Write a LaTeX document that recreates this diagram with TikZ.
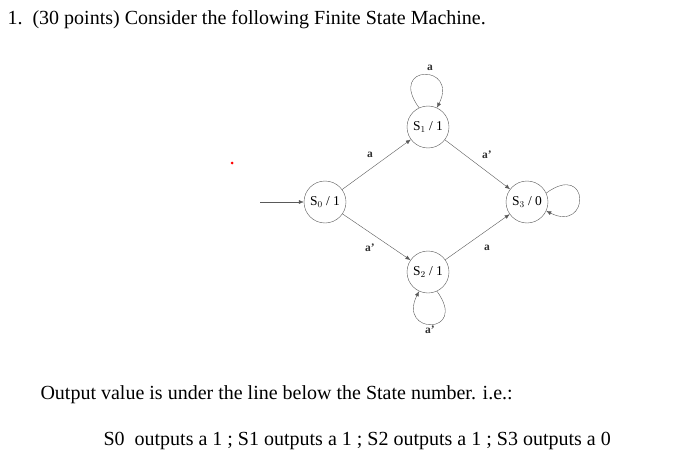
\documentclass[tikz,border=0pt]{standalone}
\usepackage{fontspec}
\setmainfont{Liberation Serif}
\usetikzlibrary{arrows.meta}
\begin{document}
\begin{tikzpicture}[x=1pt,y=-1pt,
  st/.style={circle,draw,black!65,thin,minimum size=42pt,inner sep=0pt,text=black,font=\fontsize{13.5}{15}\selectfont},
  tr/.style={draw=black!65,thin,-{Latex[length=5pt,width=4pt]}},
  lbl/.style={font=\fontsize{11.5}{12}\selectfont\bfseries, text=black!80}]
\useasboundingbox (0,0) rectangle (698,468);
\node[anchor=west,font=\fontsize{20}{22}\selectfont] (title) at (4,20) {1.\ \ (30 points) Consider the following Finite State Machine.};
\fill[red] (232,163) circle (1.5);
\node[st] (s0) at (325,202) {S$_0$ / 1};
\node[st] (s1) at (428,127) {S$_1$ / 1};
\node[st] (s2) at (428,272) {S$_2$ / 1};
\node[st] (s3) at (527,202) {S$_3$ / 0};
\coordinate (init) at (260,202);
\draw[tr] (init) -- (s0);
\draw[tr] (s0) -- (s1);
\draw[tr] (s0) -- (s2);
\draw[tr] (s1) -- (s3);
\draw[tr] (s2) -- (s3);
\draw[tr] (s1.115) .. controls +(-32,-44) and +(22,-44) .. (s1.65);
\draw[tr] (s2.295) .. controls +(32,44) and +(-22,44) .. (s2.245);
\draw[tr] (s3.25) .. controls +(44,-32) and +(44,22) .. (s3.-25);
\node[lbl] (l1) at (430,68) {a};
\node[lbl] (l2) at (370,155) {a};
\node[lbl] (l3) at (487,155) {a'};
\node[lbl] (l4) at (370,248) {a'};
\node[lbl] (l5) at (487,248) {a};
\node[lbl] (l6) at (430,330) {a'};
\node[anchor=west,font=\fontsize{20}{22}\selectfont] (t2) at (37,395) {Output value is under the line below the State number. i.e.:};
\node[anchor=west,font=\fontsize{20}{22}\selectfont] (t3) at (100,441) {S0\ \ outputs a 1 ; S1 outputs a 1 ; S2 outputs a 1 ; S3 outputs a 0};
\end{tikzpicture}
\end{document}
